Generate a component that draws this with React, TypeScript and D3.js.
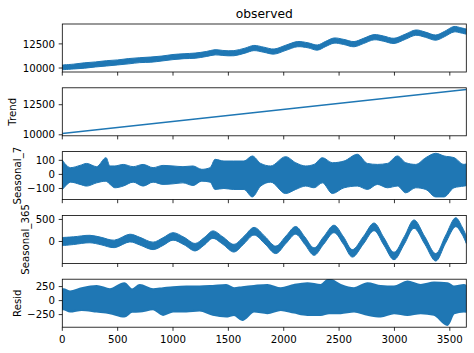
import React from "react";
import * as d3 from "d3";

// x ticks (days) shared by all panels
const xTicks = [0, 500, 1000, 1500, 2000, 2500, 3000, 3500];
const xMax = 3649;

// observed: upper / lower edge of the noisy band
const obsDays = [0, 100, 200, 300, 400, 500, 600, 700, 800, 900, 1000, 1100, 1200, 1300, 1380, 1450, 1550, 1650, 1730, 1820, 1913, 2020, 2123, 2220, 2304, 2380, 2454, 2540, 2635, 2720, 2816, 2900, 2996, 3100, 3192, 3280, 3373, 3450, 3538, 3600, 3649];
const obsHigh = [10320, 10400, 10540, 10630, 10760, 10840, 10980, 11070, 11140, 11240, 11400, 11480, 11550, 11710, 11900, 11820, 11800, 12060, 12340, 12160, 11970, 12370, 12740, 12610, 12390, 12770, 13110, 12970, 12740, 13070, 13460, 13320, 13080, 13520, 13940, 13720, 13420, 13780, 14300, 14170, 14040];
const obsLow = [9820, 9900, 9980, 10110, 10210, 10320, 10430, 10560, 10600, 10730, 10870, 10970, 11010, 11190, 11360, 11300, 11270, 11540, 11800, 11630, 11440, 11830, 12200, 12090, 11850, 12230, 12570, 12440, 12200, 12530, 12920, 12780, 12540, 12980, 13390, 13180, 12880, 13230, 13740, 13630, 13500];

// trend
const trendDays = [0, 1825, 3649];
const trendVals = [10110, 11938, 13765];

// seasonal_7 envelope
const s7Days = [0, 20, 75, 160, 220, 310, 395, 430, 475, 550, 640, 730, 820, 910, 1000, 1090, 1180, 1260, 1335, 1380, 1460, 1545, 1641, 1716, 1792, 1882, 2017, 2108, 2198, 2274, 2349, 2439, 2545, 2665, 2756, 2846, 2936, 3027, 3102, 3192, 3283, 3373, 3448, 3538, 3628, 3649];
const s7High = [102, 80, 48, 64, 78, 55, 119, 60, 60, 71, 55, 71, 48, 64, 60, 55, 60, 36, 48, 107, 95, 95, 95, 131, 78, 60, 126, 83, 60, 71, 119, 83, 95, 143, 78, 71, 78, 131, 83, 71, 119, 150, 131, 119, 71, 75];
const s7Low = [-107, -90, -55, -71, -83, -60, -48, -70, -95, -83, -55, -83, -55, -71, -67, -60, -79, -48, -55, -107, -100, -107, -107, -160, -83, -55, -136, -107, -83, -95, -60, -136, -95, -83, -107, -71, -95, -83, -131, -95, -107, -160, -160, -95, -83, -80];

// seasonal_365 envelope
const s365Days = [0, 100, 250, 350, 470, 610, 700, 820, 910, 1000, 1100, 1200, 1280, 1360, 1450, 1550, 1640, 1732, 1830, 1928, 2020, 2108, 2190, 2274, 2360, 2454, 2540, 2620, 2720, 2816, 2905, 2996, 3090, 3177, 3275, 3373, 3460, 3553, 3610, 3649];
const s365High = [90, 105, 140, 95, 30, 165, 95, -15, 85, 200, 95, -45, 85, 240, 105, -65, 115, 320, 115, -105, 125, 340, 105, -145, 105, 370, 105, -185, 115, 420, 85, -245, 115, 490, 105, -275, 125, 540, 335, 125];
const s365Low = [-95, -70, -30, -75, -140, -10, -80, -185, -90, 30, -75, -215, -85, 70, -65, -240, -55, 145, -55, -275, -45, 165, -65, -315, -65, 200, -65, -355, -55, 245, -85, -415, -55, 300, -65, -445, -45, 335, 165, -45];

// resid envelope
const residDays = [0, 10, 70, 175, 310, 430, 560, 630, 700, 820, 910, 1000, 1120, 1240, 1360, 1480, 1551, 1626, 1732, 1852, 1973, 2093, 2214, 2334, 2409, 2514, 2635, 2756, 2876, 2996, 3117, 3237, 3358, 3478, 3538, 3628, 3649];
const residHigh = [204, 204, 161, 221, 262, 204, 311, 200, 280, 204, 221, 239, 250, 250, 262, 280, 221, 240, 262, 280, 221, 280, 311, 280, 382, 280, 221, 311, 262, 250, 339, 280, 321, 311, 250, 280, 260];
const residLow = [-154, -154, -196, -166, -196, -225, -286, -200, -196, -154, -255, -196, -196, -179, -255, -286, -255, -345, -196, -225, -166, -214, -255, -255, -225, -225, -196, -255, -286, -225, -255, -225, -255, -434, -225, -196, -200];

const labels = ["", "Trend", "Seasonal_7", "Seasonal_365", "Resid"];
const yLimits = [[9588, 14558], [9916, 13906], [-179, 162], [-498, 592], [-475, 382]];
const yTicks = [[10000, 12500], [10000, 12500], [-100, 0, 100], [0, 500], [-250, 0, 250]];
const labelX = [0, 16.1, 20.5, 29, 20.5];

const BLUE = "#1f77b4";
const W = 474, H = 353;
const left = 62.3, right = 466.3;
const top0 = 24, step = 63.8, ph = 48;
const font = "DejaVu Sans, sans-serif";

const fmt = (v: number) => (v < 0 ? "\u2212" + Math.abs(v) : String(v));

type Band = { days: number[]; hi: number[]; lo: number[]; curve: d3.CurveFactory };

export default function App() {
  const x = d3.scaleLinear().domain([0, xMax]).range([left, right]);
  const bands: (Band | null)[] = [
    { days: obsDays, hi: obsHigh, lo: obsLow, curve: d3.curveCatmullRom },
    null,
    { days: s7Days, hi: s7High, lo: s7Low, curve: d3.curveMonotoneX },
    { days: s365Days, hi: s365High, lo: s365Low, curve: d3.curveCatmullRom },
    { days: residDays, hi: residHigh, lo: residLow, curve: d3.curveMonotoneX },
  ];

  return (
    <svg width={W} height={H} style={{ position: "absolute", left: 0, top: 0, background: "#fff" }} fontFamily={font}>
      <rect width={W} height={H} fill="#fff" />
      <text x={(left + right) / 2} y={17.8} fontSize={12.3} textAnchor="middle" fill="#000">observed</text>
      {labels.map((lab, i) => {
        const t = top0 + i * step;
        const y = d3.scaleLinear().domain(yLimits[i]).range([t + ph, t]);
        const band = bands[i];
        let path = "";
        if (band) {
          const pts = band.days.map((d, k) => [d, band.hi[k], band.lo[k]]);
          path = d3.area<number[]>()
            .curve(band.curve)
            .x((p) => x(p[0]))
            .y0((p) => y(p[2]))
            .y1((p) => y(p[1]))(pts) || "";
        }
        const trendPath = i === 1
          ? d3.line<number>().x((d) => x(d)).y((d, k) => y(trendVals[k]))(trendDays) || ""
          : "";
        return (
          <g key={i}>
            <defs>
              <clipPath id={"clip" + i}>
                <rect x={left} y={t} width={right - left} height={ph} />
              </clipPath>
            </defs>
            <g clipPath={`url(#clip${i})`}>
              {band && (
                <path d={path} fill={BLUE} stroke={BLUE}
                  strokeWidth={i === 4 ? 2 : 1} strokeLinejoin="round" />
              )}
              {i === 1 && <path d={trendPath} fill="none" stroke={BLUE} strokeWidth={1.5} />}
            </g>
            <rect x={left} y={t} width={right - left} height={ph} fill="none" stroke="#000" strokeWidth={0.8} />
            {xTicks.map((v) => (
              <line key={v} x1={x(v)} x2={x(v)} y1={t + ph} y2={t + ph + 3.6} stroke="#000" strokeWidth={0.8} />
            ))}
            {i === 4 && xTicks.map((v) => (
              <text key={"l" + v} x={x(v)} y={t + ph + 15.6} fontSize={10.2} textAnchor="middle" fill="#000">{v}</text>
            ))}
            {yTicks[i].map((v) => (
              <g key={v}>
                <line x1={left - 3.6} x2={left} y1={y(v)} y2={y(v)} stroke="#000" strokeWidth={0.8} />
                <text x={left - 7.2} y={y(v) + 3.7} fontSize={10.2} textAnchor="end" fill="#000">{fmt(v)}</text>
              </g>
            ))}
            {lab && (
              <text transform={`translate(${labelX[i]},${t + ph / 2}) rotate(-90)`} fontSize={10.2}
                textAnchor="middle" fill="#000">{lab}</text>
            )}
          </g>
        );
      })}
    </svg>
  );
}
